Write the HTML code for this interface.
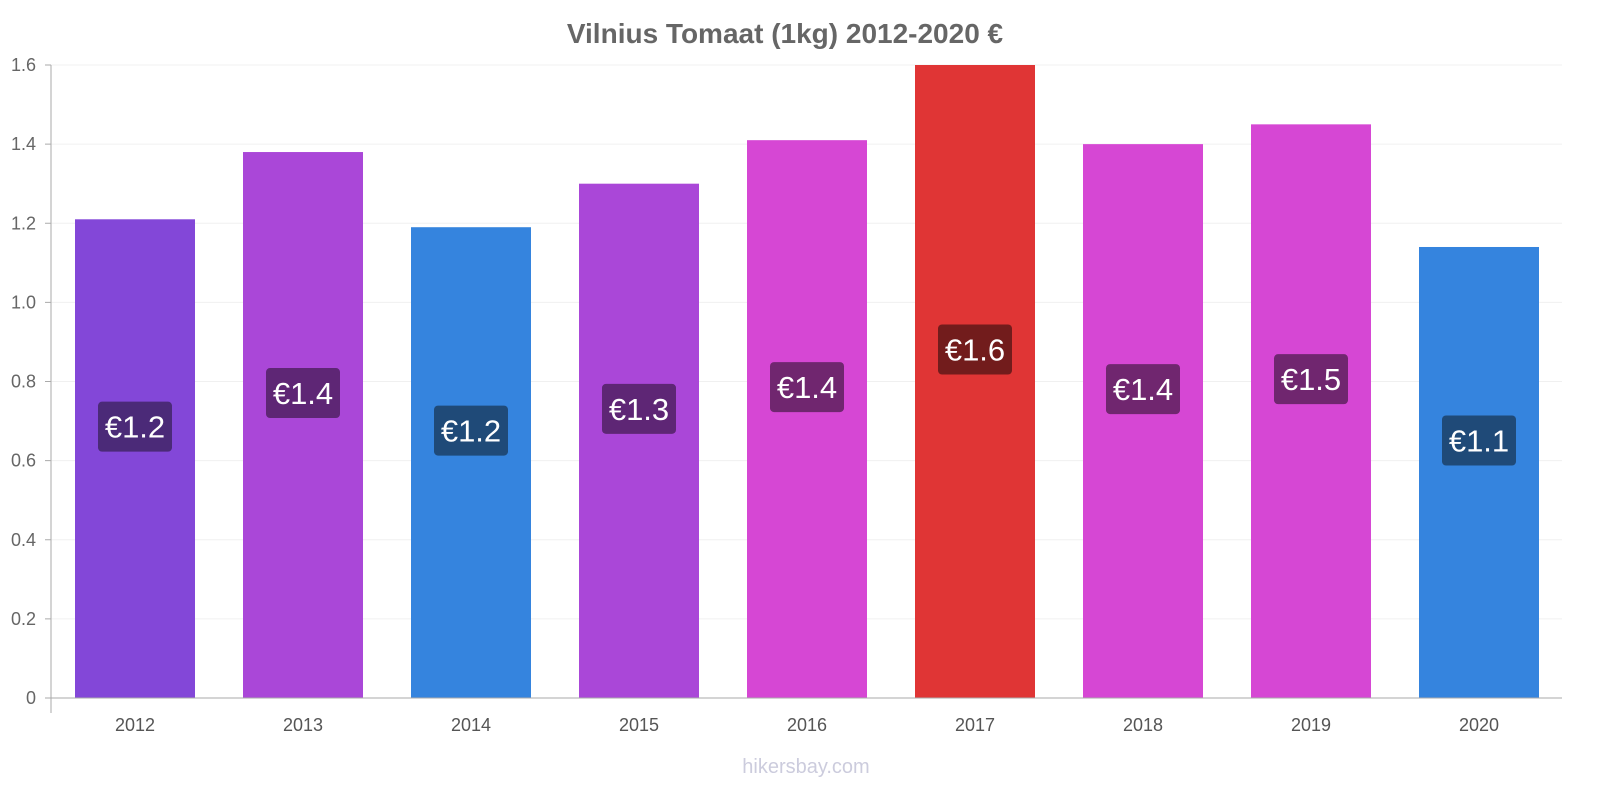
<!DOCTYPE html>
<html><head><meta charset="utf-8"><style>
html,body{margin:0;padding:0;background:#fff;font-family:"Liberation Sans",sans-serif;overflow:hidden;width:1600px;height:800px}
svg{display:block}
</style></head><body>
<svg width="1600" height="800" xmlns="http://www.w3.org/2000/svg" id="chart">
<text x="785" y="43" text-anchor="middle" font-size="28" font-weight="bold" fill="#666">Vilnius Tomaat (1kg) 2012-2020 €</text>
<g id="grid"></g><g id="bars"></g><g id="labels"></g>
<line x1="51" y1="65" x2="51" y2="713" stroke="#aaa"/>
<line x1="45" y1="698" x2="1562" y2="698" stroke="#aaa"/>
<text x="806" y="773" text-anchor="middle" font-size="20" fill="#ccd">hikersbay.com</text>
</svg>
<script>
const categories=["2012","2013","2014","2015","2016","2017","2018","2019","2020"];
const values=[1.21,1.38,1.19,1.30,1.41,1.60,1.40,1.45,1.14];
const valueLabels=["€1.2","€1.4","€1.2","€1.3","€1.4","€1.6","€1.4","€1.5","€1.1"];
const yTicks=[0,0.2,0.4,0.6,0.8,1.0,1.2,1.4,1.6];
const yTickLabels=["0","0.2","0.4","0.6","0.8","1.0","1.2","1.4","1.6"];
const colors=["#8347d8","#aa47d8","#3584de","#aa47d8","#d647d4","#e03535","#d647d4","#d647d4","#3584de"];
const labelBg=["#4b2a78","#5e2675","#1f4a78","#5e2675","#70266f","#721c1c","#70266f","#70266f","#1f4a78"];
const NS="http://www.w3.org/2000/svg";
const y=v=>698-v/1.6*633;
const x=i=>135+i*168;
const g=document.getElementById('grid'),b=document.getElementById('bars'),l=document.getElementById('labels');
function mk(tag,attrs,parent){const e=document.createElementNS(NS,tag);for(const k in attrs)e.setAttribute(k,attrs[k]);parent.appendChild(e);return e;}
yTicks.forEach((t,i)=>{
 const ln=mk('line',{x1:51,x2:1562,y1:y(t),y2:y(t),stroke:'#f0f0f0'},g);
 
 
 const tk=mk('line',{x1:45,x2:51,y1:y(t),y2:y(t),stroke:'#aaa'},g);
 
 
 const tx=mk('text',{x:36,y:y(t)+6,'text-anchor':'end','font-size':18,fill:'#666'},g);
 tx.textContent=yTickLabels[i];
 
 
});
categories.forEach((c,i)=>{
 const top=y(values[i]);
 const r=mk('rect',{x:x(i)-60,y:top,width:120,height:698-top,fill:colors[i]},b);
 
 
 const ct=mk('text',{x:x(i),y:731,'text-anchor':'middle','font-size':18,fill:'#555'},b);
 ct.textContent=c;
 
 
 const cy=(top+698)/2-32;
 const w=valueLabels[i].length*16+10;
 const bg=mk('rect',{x:x(i)-w/2,y:cy-25,width:w,height:50,rx:4,fill:labelBg[i]},l);
 
 
 const vt=mk('text',{x:x(i),y:cy+11,'text-anchor':'middle','font-size':31,fill:'#fff'},l);
 vt.textContent=valueLabels[i];
 
 
});
</script>
</body></html>
